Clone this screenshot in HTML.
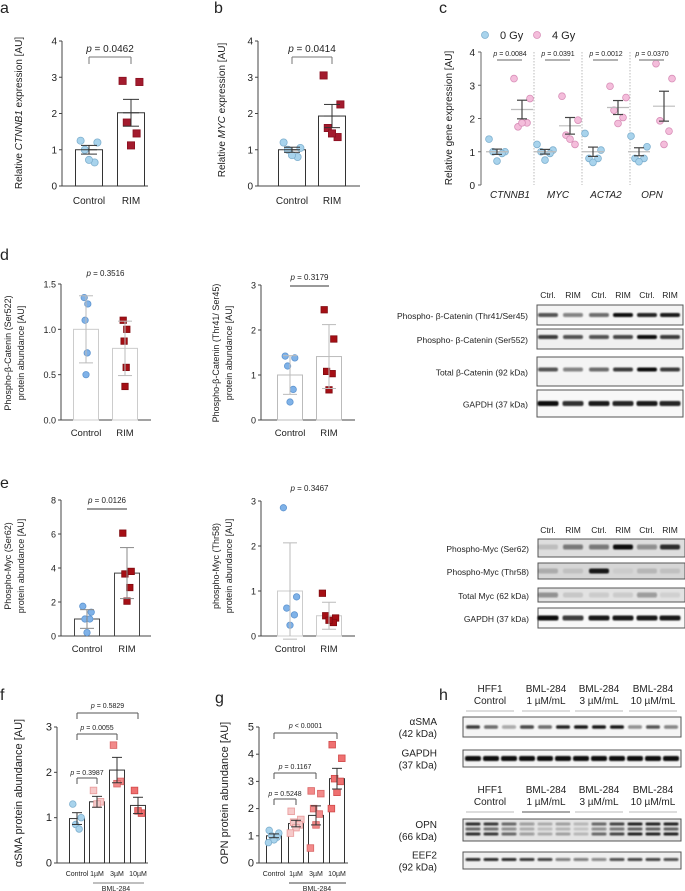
<!DOCTYPE html>
<html><head><meta charset="utf-8"><style>
html,body{margin:0;padding:0;background:#fff}
svg{display:block;font-family:"Liberation Sans",sans-serif}
</style></head><body>
<svg id="fig" width="685" height="891" viewBox="0 0 685 891" xmlns="http://www.w3.org/2000/svg">
<defs>
<filter id="blur" x="-50%" y="-300%" width="200%" height="700%"><feGaussianBlur stdDeviation="0.9"/></filter>
</defs>
</svg>
<script>
// ---------- data ----------
// panel a
const aCats=["Control","RIM"];
const aCtrl=[1.25,1.2,1.0,0.65,0.72];
const aRim=[2.9,2.87,1.75,1.45,1.12];
const aMean=[1.0,2.02];
const aErr=[0.12,0.37];
const abTicks=[0,1,2,3,4];
// panel b
const bCtrl=[1.2,1.05,1.0,0.8,0.85];
const bRim=[3.05,2.25,1.6,1.35,1.45];
const bMean=[1.0,1.93];
const bErr=[0.07,0.32];
// panel c
const cGenes=["CTNNB1","MYC","ACTA2","OPN"];
const c0Gy=[[1.38,1.0,1.0,0.95,0.72],[1.22,1.05,1.0,0.95,0.75],[1.55,1.05,0.8,0.8,0.68],[1.47,1.15,0.8,0.8,0.7]];
const c4Gy=[[3.2,2.6,1.75,1.87,1.87],[2.67,1.95,1.5,1.22,1.38],[2.97,2.63,2.25,2.03,1.85],[3.65,3.2,1.93,1.62,1.22]];
const c0Mean=[1.0,1.0,1.0,1.0];
const c0Err=[0.08,0.07,0.14,0.12];
const c4Mean=[2.27,1.78,2.33,2.37];
const c4Err=[0.28,0.25,0.21,0.45];
const cP=["0.0084","0.0391","0.0012","0.0370"];
// panel d
const d1Ctrl=[1.35,1.28,1.1,0.74,0.5];
const d1Rim=[1.1,1.0,0.87,0.58,0.37];
const d1Mean=[1.0,0.79];
const d1SD=[0.37,0.3];
const d1Ticks=[0,0.5,1.0,1.5];
const d2Ctrl=[1.42,1.38,1.2,0.68,0.4];
const d2Rim=[2.45,1.8,1.08,1.03,0.67];
const d2Mean=[1.0,1.41];
const d2SD=[0.43,0.71];
const d2Ticks=[0,1,2,3];
// panel e
const e1Ctrl=[1.75,1.4,1.0,1.0,0.2];
const e1Rim=[6.05,3.8,3.65,2.85,2.05];
const e1Mean=[1.0,3.7];
const e1SD=[0.55,1.5];
const e1Ticks=[0,2,4,6,8];
const e2Ctrl=[2.85,0.87,0.62,0.47,0.24];
const e2Rim=[0.95,0.4,0.45,0.3,0.35];
const e2Mean=[1.0,0.45];
const e2SD=[1.07,0.3];
const e2Ticks=[0,1,2,3];
// panel f
const fCats=["Control","1µM","3µM","10µM"];
const fPts=[[1.3,1.0,0.85,0.75],[1.6,1.35,1.3],[2.6,1.8,1.75],[1.6,1.1,1.15]];
const fMean=[0.98,1.35,2.05,1.27];
const fErr=[0.13,0.12,0.28,0.18];
const fTicks=[0,1,2,3];
// panel g
const gPts=[[1.2,1.1,1.0,0.95,0.85,0.75],[1.9,1.6,1.5,1.4,1.3,1.1],[2.65,2.55,2.0,1.8,1.4,0.55],[4.35,3.85,3.1,3.0,2.6,2.0]];
const gMean=[1.0,1.45,1.75,3.1];
const gErr=[0.07,0.12,0.35,0.38];
const gTicks=[0,1,2,3,4,5];
// blots (band intensities)
const bl1=[[0.7,0.5,0.6,1.0,0.9,0.95],[0.8,0.7,0.7,0.75,1.0,0.8],[0.7,0.5,0.6,0.8,1.0,0.8],[1.0,0.85,0.95,0.9,0.95,0.9]];
const bl2=[[0.15,0.5,0.5,1.0,0.4,0.85],[0.2,0.1,0.95,0.05,0.15,0.1],[0.4,0.12,0.1,0.1,0.35,0.08],[1.0,0.8,0.95,0.95,0.95,0.95]];
const blH=[[0.8,0.6,0.35,0.75,0.6,0.9,0.95,0.95,0.95,0.45,0.7,0.5],[1,1,1,1,1,1,1,1,1,1,1,1],[0.85,0.8,0.6,0.35,0.25,0.3,0.2,0.6,0.75,0.9,0.9,0.9],[0.85,0.85,0.85,0.8,0.75,0.5,0.5,0.45,0.7,0.75,0.75,0.7]];

// ---------- helpers ----------
const NS="http://www.w3.org/2000/svg";
const svg=document.getElementById('fig');
function mk(tag,attrs,parent,txt){const e=document.createElementNS(NS,tag);for(const k in attrs)e.setAttribute(k,attrs[k]);if(txt!==undefined)e.textContent=txt;(parent||svg).appendChild(e);return e;}
function grp(name){const g=mk('g',{});return g;}
function T(g,x,y,s,size,anchor,extra){const e=mk('text',Object.assign({x:x,y:y,'font-size':size||10,'text-anchor':anchor||'middle',fill:'#222'},extra||{}),g,s);return e;}
function L(g,x1,y1,x2,y2,c,w){return mk('line',{x1:x1,y1:y1,x2:x2,y2:y2,stroke:c||'#333','stroke-width':w||1},g);}
function panelLabel(ch,x,y){const t=T(svg,x,y,ch,16,'start');}
function yTitle(g,x,cy,lines,size){const t=mk('text',{x:0,y:0,'font-size':size,'text-anchor':'middle',fill:'#222',transform:`translate(${x},${cy}) rotate(-90)`},g);
  lines.forEach(seg=>{mk('tspan',seg.i?{'font-style':'italic'}:{},t,seg.t);});
  return t;}
const jit5=[-6,6,-3,4,0], jit6=[-6,6,-3,4,0,-7], jit4=[-6,6,-2,3];

function bars(o){
  const g=grp(o.name);
  const Y=v=>o.y0-(v-o.min)*(o.y0-o.yTop)/(o.max-o.min);
  L(g,o.ax,o.y0,o.ax,Y(o.max),'#444',1);
  L(g,o.ax,o.y0,o.xEnd,o.y0,'#444',1);
  o.ticks.forEach((t)=>{L(g,o.ax-3,Y(t),o.ax,Y(t),'#444',1);
    const lbl=T(g,o.ax-5,Y(t)+3.5,o.tickFmt?o.tickFmt(t):String(t),o.tfs||10,'end');
    });
  o.cats.forEach((c,i)=>{const lbl=T(g,o.centers[i],o.catY,c,o.cfs||10);});
  o.means.forEach((m,i)=>{
    const r=mk('rect',{x:o.centers[i]-o.bw/2,y:Y(m),width:o.bw,height:o.y0-Y(m),fill:'#fff',stroke:o.barStroke||'#333','stroke-width':1},g);
    
  });
  o.pts.forEach((arr,i)=>{const j=arr.length===6?jit6:(arr.length===4?jit4:(arr.length===3?[-5,5,0]:jit5));
    arr.forEach((v,k)=>{const x=o.centers[i]+j[k]*(o.jscale||1);let e;
      const col=o.colors[i], sh=o.shapes[i], ms=o.ms||3.6;
      if(sh==='c') e=mk('circle',{cx:x,cy:Y(v),r:ms,fill:col[0],stroke:col[1],'stroke-width':0.8},g);
      else e=mk('rect',{x:x-ms,y:Y(v)-ms,width:2*ms,height:2*ms,fill:col[0],stroke:col[1],'stroke-width':0.8},g);
      });});
  o.means.forEach((m,i)=>{const c=o.errColor||'#333',cx=o.centers[i],cw=o.capW||6;
    L(g,cx,Y(m+o.errs[i]),cx,Y(Math.max(m-o.errs[i],0)),c,1);
    L(g,cx-cw,Y(m+o.errs[i]),cx+cw,Y(m+o.errs[i]),c,1);
    L(g,cx-cw,Y(m-o.errs[i]),cx+cw,Y(m-o.errs[i]),c,1);
    if(o.meanLine) L(g,cx-cw,Y(m),cx+cw,Y(m),c,1);
  });
  (o.brackets||[]).forEach(b=>{
    const bg=mk('g',{},g);
    const x1=o.centers[b.a],x2=o.centers[b.b],by=b.y;
    if(b.flat){L(bg,x1,by,x2,by,b.c||'#333',1);}
    else{L(bg,x1,by,x2,by,b.c||'#555',1);L(bg,x1,by,x1,by+b.h,b.c||'#555',1);L(bg,x2,by,x2,by+b.h,b.c||'#555',1);}
    const t=T(bg,(x1+x2)/2,b.ty,'',b.fs||9);mk('tspan',{'font-style':'italic'},t,'p');mk('tspan',{},t,' '+b.op+' '+b.p);
  });
  return {g,Y};
}

// ---------- panel a ----------
panelLabel('a',0,13);
{const r=bars({name:'chart-a',key:['control','rim'],ax:62,y0:186,yTop:41,min:0,max:4,ticks:abTicks,xEnd:148,cats:aCats,centers:[89,131],catY:204,bw:27,means:aMean,errs:aErr,
 pts:[aCtrl,aRim],colors:[['#a8d3ec','#7fb0cf'],['#a31b2e','#8a1020']],shapes:['c','s'],capW:8,meanLine:true,jscale:1.4,
 brackets:[{a:0,b:1,y:57,h:7,ty:52,op:'=',p:'0.0462',fs:10,c:'#777'}]});
 yTitle(r.g,22,113,[{t:'Relative '},{t:'CTNNB1',i:true},{t:' expression [AU]'}],10);}
// ---------- panel b ----------
panelLabel('b',214,13);
{const r=bars({name:'chart-b',key:['control','rim'],ax:258,y0:186,yTop:41,min:0,max:4,ticks:abTicks,xEnd:360,cats:aCats,centers:[292,332],catY:204,bw:27,means:bMean,errs:bErr,
 pts:[bCtrl,bRim],colors:[['#a8d3ec','#7fb0cf'],['#a31b2e','#8a1020']],shapes:['c','s'],capW:8,meanLine:true,jscale:1.4,
 brackets:[{a:0,b:1,y:57,h:7,ty:52,op:'=',p:'0.0414',fs:10,c:'#777'}]});
 yTitle(r.g,225,110,[{t:'Relative '},{t:'MYC',i:true},{t:' expression [AU]'}],10);}
// ---------- panel c ----------
panelLabel('c',439,13);
{const g=grp('chart-c');const y0=185,yT=52,Y=v=>y0-v*(y0-yT)/4;const ax=481;
 L(g,ax,y0,ax,yT,'#666',1);
 abTicks.forEach(t=>{L(g,ax-3,Y(t),ax,Y(t),'#666',1);const l=T(g,ax-6,Y(t)+4,String(t),10,'end');});
 [534,582,630].forEach(x=>{const s=L(g,x,yT,x,y0,'#aaa',0.8);s.setAttribute('stroke-dasharray','1.5,1.5');});
 const centers=[510,558,606,652];
 const lg=mk('g',{},g);
 mk('circle',{cx:485,cy:35,r:3.5,fill:'#a8d3ec',stroke:'#7fb0cf','stroke-width':0.8},lg);T(lg,500,39,'0 Gy',11,'start');
 mk('circle',{cx:537,cy:35,r:3.5,fill:'#f4bddb',stroke:'#d88fb8','stroke-width':0.8},lg);T(lg,552,39,'4 Gy',11,'start');
 const jc=[-8,8,-4,5,0];
 cGenes.forEach((gn,i)=>{const cx=centers[i];
  const l=T(g,cx,198,gn,10,'middle',{'font-style':'italic'});
  const x0=cx-13,x4=cx+12;
  [[c0Gy[i],x0,c0Mean[i],c0Err[i],['#a8d3ec','#7fb0cf']],[c4Gy[i],x4,c4Mean[i],c4Err[i],['#f4bddb','#d88fb8']]].forEach(([arr,xc,m,e,col])=>{
   arr.forEach((v,k)=>{const p=mk('circle',{cx:xc+jc[k],cy:Y(v),r:3.4,fill:col[0],stroke:col[1],'stroke-width':0.8},g);});
   L(g,xc-11,Y(m),xc+11,Y(m),'#bbb',1.2);
   L(g,xc,Y(m+e),xc,Y(m-e),'#444',1.2);L(g,xc-5,Y(m+e),xc+5,Y(m+e),'#444',1.2);L(g,xc-5,Y(m-e),xc+5,Y(m-e),'#444',1.2);
  });
  const bg=mk('g',{},g);
  L(bg,x0,60,x4,60,'#999',1.5);const t=T(bg,cx,56,'',7);mk('tspan',{'font-style':'italic'},t,'p');mk('tspan',{},t,' = '+cP[i]);
 });
 yTitle(g,452,118,[{t:'Relative gene expression [AU]'}],10);}
// ---------- panel d ----------
panelLabel('d',0,260);
{const r=bars({name:'chart-d-ser522',key:['control','rim'],ax:61,y0:420,yTop:284,min:0,max:1.5,ticks:d1Ticks,tickFmt:t=>t.toFixed(1),xEnd:151,cats:aCats,centers:[86,125],catY:436,bw:25,means:d1Mean,errs:d1SD,
 pts:[d1Ctrl,d1Rim],colors:[['#7fb2e8','#5f95d0'],['#a50f15','#800a10']],shapes:['c','s'],capW:7,errColor:'#bbb',barStroke:'#ccc',ms:3.2,tfs:9,cfs:9.5,jscale:0.3,
 brackets:[{a:0,b:1,y:287,h:0,flat:true,ty:276,op:'=',p:'0.3516',fs:8,c:'#fff'}]});
 yTitle(r.g,11,353,[{t:'Phospho-β-Catenin (Ser522)'}],9);yTitle(r.g,24,353,[{t:'protein abundance [AU]'}],9);}
{const r=bars({name:'chart-d-thr41',key:['control','rim'],ax:261,y0:420,yTop:285,min:0,max:3,ticks:d2Ticks,xEnd:355,cats:aCats,centers:[290,329],catY:436,bw:25,means:d2Mean,errs:d2SD,
 pts:[d2Ctrl,d2Rim],colors:[['#7fb2e8','#5f95d0'],['#a50f15','#800a10']],shapes:['c','s'],capW:7,errColor:'#bbb',barStroke:'#bbb',ms:3.2,tfs:9,cfs:9.5,jscale:0.8,
 brackets:[{a:0,b:1,y:286,h:0,flat:true,ty:280,op:'=',p:'0.3179',fs:8}]});
 yTitle(r.g,219,353,[{t:'Phospho-β-Catenin  (Thr41/ Ser45)'}],9);yTitle(r.g,232,353,[{t:'protein abundance [AU]'}],9);}
// ---------- panel e ----------
panelLabel('e',0,488);
{const r=bars({name:'chart-e-ser62',key:['control','rim'],ax:61,y0:636,yTop:500,min:0,max:8,ticks:e1Ticks,xEnd:151,cats:aCats,centers:[87,127],catY:652,bw:25,means:e1Mean,errs:e1SD,
 pts:[e1Ctrl,e1Rim],colors:[['#7fb2e8','#5f95d0'],['#a50f15','#800a10']],shapes:['c','s'],capW:7,errColor:'#888',barStroke:'#444',ms:3.2,tfs:9,cfs:9.5,jscale:0.7,
 brackets:[{a:0,b:1,y:509,h:0,flat:true,ty:503,op:'=',p:'0.0126',fs:8}]});
 yTitle(r.g,11,566,[{t:'Phospho-Myc (Ser62)'}],9);yTitle(r.g,24,566,[{t:'protein abundance [AU]'}],9);}
{const r=bars({name:'chart-e-thr58',key:['control','rim'],ax:261,y0:636,yTop:501,min:0,max:3,ticks:e2Ticks,xEnd:355,cats:aCats,centers:[290,329],catY:652,bw:25,means:e2Mean,errs:e2SD,
 pts:[e2Ctrl,e2Rim],colors:[['#7fb2e8','#5f95d0'],['#a50f15','#800a10']],shapes:['c','s'],capW:7,errColor:'#bbb',barStroke:'#ccc',ms:3.2,tfs:9,cfs:9.5,jscale:1.1,
 brackets:[{a:0,b:1,y:499,h:0,flat:true,ty:491,op:'=',p:'0.3467',fs:8,c:'#fff'}]});
 yTitle(r.g,219,566,[{t:'phospho-Myc (Thr58)'}],9);yTitle(r.g,232,566,[{t:'protein abundance [AU]'}],9);}
// ---------- panel f ----------
panelLabel('f',0,700);
{const r=bars({name:'chart-f',key:['control','1um','3um','10um'],ax:57,y0:863,yTop:727,min:0,max:3,ticks:fTicks,xEnd:148,cats:fCats,centers:[77,97,117,138],catY:876,bw:15,means:fMean,errs:fErr,
 pts:fPts,colors:[['#a8d3ec','#7fb0cf'],['#f6c9c9','#e89a9a'],['#f28a8a','#d96464'],['#ef7070','#d04a4a']],shapes:['c','s','s','s'],capW:5,meanLine:false,ms:3.3,tfs:11,cfs:7,jscale:0.7,
 brackets:[{a:0,b:1,y:778,h:6,ty:775,op:'=',p:'0.3987',fs:7},{a:0,b:2,y:734,h:6,ty:730,op:'=',p:'0.0055',fs:7},{a:0,b:3,y:713,h:6,ty:708,op:'=',p:'0.5829',fs:7}]});
 L(r.g,93,883,144,883,'#999',1.2);T(r.g,116,891,'BML-284',7);
 yTitle(r.g,22,793,[{t:'αSMA protein abundance [AU]'}],11);}
// ---------- panel g ----------
panelLabel('g',215,703);
{const r=bars({name:'chart-g',key:['control','1um','3um','10um'],ax:259,y0:863,yTop:727,min:0,max:5,ticks:gTicks,xEnd:348,cats:fCats,centers:[274,296,316,337],catY:876,bw:15,means:gMean,errs:gErr,
 pts:gPts,colors:[['#a8d3ec','#7fb0cf'],['#f6c9c9','#e89a9a'],['#f28a8a','#d96464'],['#ef7070','#d04a4a']],shapes:['c','s','s','s'],capW:5,ms:3.3,tfs:11,cfs:7,jscale:0.8,
 brackets:[{a:0,b:1,y:799,h:6,ty:796,op:'=',p:'0.5248',fs:7},{a:0,b:2,y:773,h:6,ty:769,op:'=',p:'0.1167',fs:7},{a:0,b:3,y:733,h:6,ty:728,op:'<',p:'0.0001',fs:7}]});
 L(r.g,289,883,346,883,'#444',1);T(r.g,317,891,'BML-284',7);
 yTitle(r.g,228,793,[{t:'OPN protein abundance [AU]'}],11);}

// ---------- blots ----------
function blot(name,x,y,w,h,lanes,ints,bg,bandW,bandH,offs,label,lx,lfs){
  const g=grp(name);
  mk('rect',{x:x,y:y,width:w,height:h,fill:bg||'#f2f2f2',stroke:'#555','stroke-width':1},g);
  (Array.isArray(offs)?offs:[offs||0]).forEach((dy,q)=>{
   ints.forEach((v,i)=>{const b=mk('rect',{x:lanes[i]-bandW/2,y:y+h/2-bandH/2+dy,width:bandW,height:bandH,rx:Math.min(bandH/2,2),fill:'#111','fill-opacity':v*(q===1?0.7:1),filter:'url(#blur)'},g);
    });});
  if(label){ (Array.isArray(label)?label:[label]).forEach((s,k,a)=>T(g,lx,y+h/2+4+(k-(a.length-1)/2)*12,s,lfs||9,lx<x?'end':'middle')); }
  return g;
}
const lanesD=[548,573,599,623,647,670];
{const g=grp('blot-d-header');['Ctrl.','RIM','Ctrl.','RIM','Ctrl.','RIM'].forEach((s,i)=>T(g,lanesD[i],298,s,8.5));}
blot('blot-phospho-bcat-thr41',537,305,146,20,lanesD,bl1[0],'#f4f4f4',20,4,0,'Phospho- β-Catenin (Thr41/Ser45)',528,8.5);
blot('blot-phospho-bcat-ser552',537,329,146,20,lanesD,bl1[1],'#f0f0f0',20,4,-2,'Phospho- β-Catenin (Ser552)',528,8.5);
blot('blot-total-bcat',537,357,146,29,lanesD,bl1[2],'#f4f4f4',20,4,-2,'Total β-Catenin (92 kDa)',528,8.5);
blot('blot-gapdh-d',537,390,146,27,lanesD,bl1[3],'#f8f8f8',21,5,0,'GAPDH (37 kDa)',528,8.5);
{const g=grp('blot-e-header');['Ctrl.','RIM','Ctrl.','RIM','Ctrl.','RIM'].forEach((s,i)=>T(g,lanesD[i],533,s,8.5));}
blot('blot-phospho-myc-ser62',538,539,147,18,lanesD,bl2[0],'#dedede',20,5,-1,'Phospho-Myc (Ser62)',529,8.5);
blot('blot-phospho-myc-thr58',538,563,147,16,lanesD,bl2[1],'#d6d6d6',20,5,0,'Phospho-Myc (Thr58)',529,8.5);
blot('blot-total-myc',538,588,147,14,lanesD,bl2[2],'#e2e2e2',20,5,0,'Total Myc (62 kDa)',529,8.5);
blot('blot-gapdh-e',538,608,147,20,lanesD,bl2[3],'#f8f8f8',21,5,0,'GAPDH (37 kDa)',529,8.5);
// panel h
panelLabel('h',439,700);
const lanesH=[];for(let i=0;i<12;i++)lanesH.push(473+i*18);
function hHeader(name,y){const g=grp(name);const cs=[490,546,599,653];
 [['HFF1','Control'],['BML-284','1 µM/mL'],['BML-284','3 µM/mL'],['BML-284','10 µM/mL']].forEach((p,i)=>{T(g,cs[i],y,p[0],10);T(g,cs[i],y+12,p[1],10);L(g,cs[i]-24,y+19,cs[i]+24,y+19,i===1&&y>750?'#555':'#bbb',1);});}
hHeader('blot-h-header-1',692);
blot('blot-asma',463,717,218,20,lanesH,blH[0],'#f5f5f5',14,3.5,0,['αSMA','(42 kDa)'],437,10);
blot('blot-gapdh-h',463,750,218,17,lanesH,blH[1],'#f5f5f5',16,5,0,['GAPDH','(37 kDa)'],437,10);
hHeader('blot-h-header-2',793);
blot('blot-opn',463,819,218,22,lanesH,blH[2],'#e4e4e4',15,3,[-6,-1,4],['OPN','(66 kDa)'],437,10);
blot('blot-eef2',463,852,218,17,lanesH,blH[3],'#efefef',15,3,-1,['EEF2','(92 kDa)'],437,10);
</script>
</body></html>
